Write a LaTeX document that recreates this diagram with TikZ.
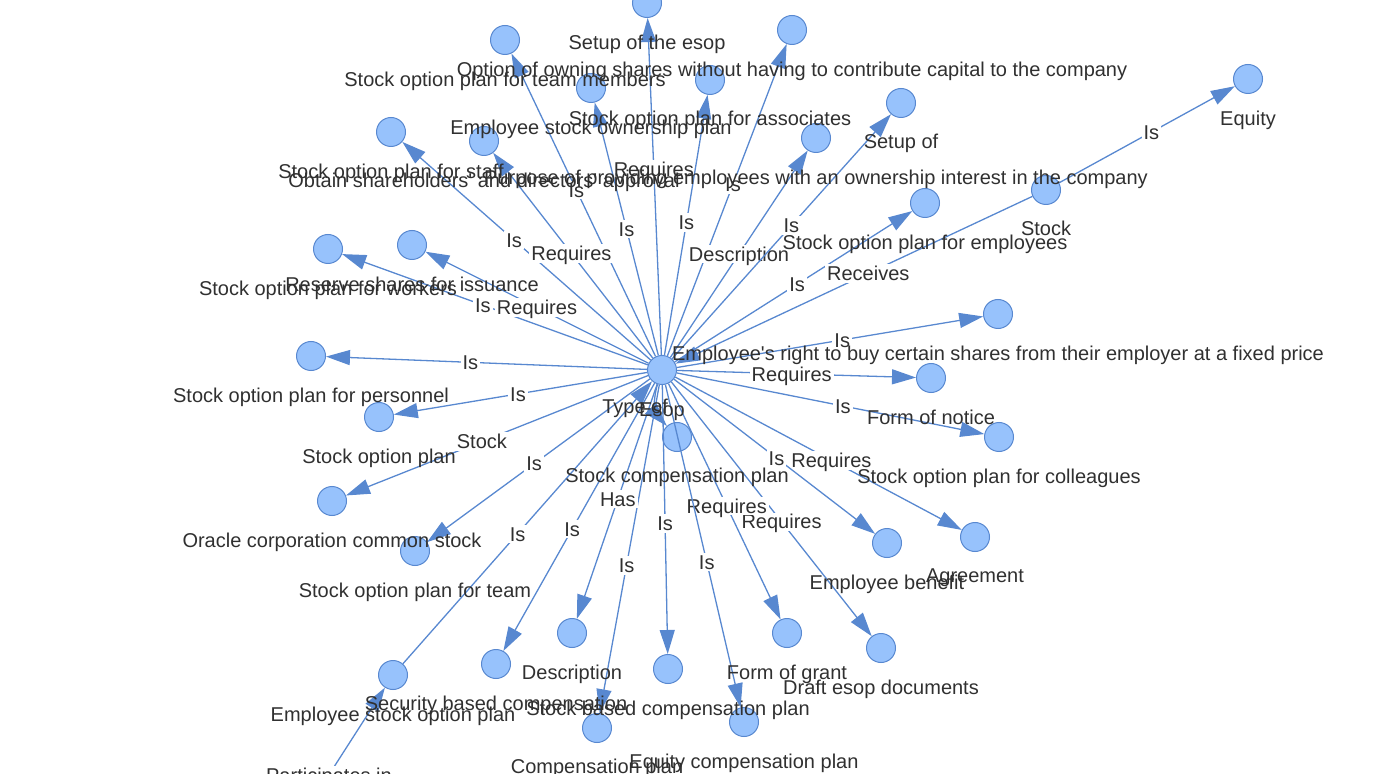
\documentclass[tikz,border=0pt]{standalone}
\usepackage{fontspec}
\setmainfont{Liberation Sans}
\usetikzlibrary{arrows.meta}
\definecolor{esoplightblue}{RGB}{151,194,252}
\definecolor{esopblue}{RGB}{88,136,208}
\definecolor{esopdarkgray}{RGB}{48,48,48}
\tikzset{
  concept/.style={circle, draw=esopblue, fill=esoplightblue, line width=0.5pt,
    minimum size=14.5pt, inner sep=0pt},
  conceptlabel/.style={text=esopdarkgray, font=\fontsize{10}{12}\selectfont,
    inner sep=0pt, text height=7.2pt, text depth=0pt},
  relation/.style={draw=esopblue, line width=0.65pt, -{Triangle[length=12pt,width=7.5pt]}},
  relationlabel/.style={conceptlabel, fill=white, inner sep=1pt}
}
\begin{document}
\begin{tikzpicture}[x=0.5pt, y=-0.5pt]
\useasboundingbox (0,0) rectangle (1400,774);

% concepts
\node[concept] (esop) at (662,370) {};
\node[concept] (setupesop) at (647,3) {};
\node[concept] (teammembers) at (505,40) {};
\node[concept] (optionowning) at (792,30) {};
\node[concept] (ownership) at (591,88) {};
\node[concept] (associates) at (710,80) {};
\node[concept] (staff) at (391,132) {};
\node[concept] (approval) at (484,141) {};
\node[concept] (purpose) at (816,138) {};
\node[concept] (setupof) at (901,103) {};
\node[concept] (employees) at (925,203) {};
\node[concept] (stock) at (1046,190) {};
\node[concept] (equity) at (1248,79) {};
\node[concept] (workers) at (328,249) {};
\node[concept] (reserve) at (412,245) {};
\node[concept] (personnel) at (311,356) {};
\node[concept] (sop) at (379,417) {};
\node[concept] (oracle) at (332,501) {};
\node[concept] (team) at (415,551) {};
\node[concept] (esopplan) at (393,675) {};
\node[concept] (security) at (496,664) {};
\node[concept] (description) at (572,633) {};
\node[concept] (compplan) at (597,728) {};
\node[concept] (stockbased) at (668,669) {};
\node[concept] (equitycomp) at (744,722) {};
\node[concept] (formgrant) at (787,633) {};
\node[concept] (draft) at (881,648) {};
\node[concept] (benefit) at (887,543) {};
\node[concept] (agreement) at (975,537) {};
\node[concept] (colleagues) at (999,437) {};
\node[concept] (notice) at (931,378) {};
\node[concept] (right) at (998,314) {};
\node[concept] (stockcomp) at (677,437) {};
\coordinate (participant) at (273,862);

% relations
\draw[relation] (esop) -- node[relationlabel, pos=0.55] {Requires} (setupesop);
\draw[relation] (esop) -- node[relationlabel, pos=0.55] {Is} (teammembers);
\draw[relation] (esop) -- node[relationlabel, pos=0.5] {Is} (ownership);
\draw[relation] (esop) -- node[relationlabel, pos=0.51] {Is} (associates);
\draw[relation] (esop) -- node[relationlabel, pos=0.55] {Is} (optionowning);
\draw[relation] (esop) -- node[relationlabel, pos=0.55] {Is} (staff);
\draw[relation] (esop) -- node[relationlabel, pos=0.51] {Requires} (approval);
\draw[relation] (esop) -- node[relationlabel, pos=0.5] {Description} (purpose);
\draw[relation] (esop) -- node[relationlabel, pos=0.545] {Is} (setupof);
\draw[relation] (esop) -- node[relationlabel, pos=0.515] {Is} (employees);
\draw[relation] (stock) -- node[relationlabel, pos=0.46] {Receives} (esop);
\draw[relation] (stock) -- node[relationlabel, pos=0.525] {Is} (equity);
\draw[relation] (esop) -- node[relationlabel, pos=0.54] {Is} (right);
\draw[relation] (esop) -- node[relationlabel, pos=0.48] {Requires} (notice);
\draw[relation] (esop) -- node[relationlabel, pos=0.54] {Is} (colleagues);
\draw[relation] (esop) -- node[relationlabel, pos=0.545] {Requires} (agreement);
\draw[relation] (esop) -- node[relationlabel, pos=0.51] {Is} (benefit);
\draw[relation] (esop) -- node[relationlabel, pos=0.55] {Requires} (draft);
\draw[relation] (esop) -- node[relationlabel, pos=0.52] {Requires} (formgrant);
\draw[relation] (esop) -- node[relationlabel, pos=0.55] {Is} (equitycomp);
\draw[relation] (esop) -- node[relationlabel, pos=0.515] {Is} (stockbased);
\draw[relation] (esop) -- node[relationlabel, pos=0.55] {Is} (compplan);
\draw[relation] (esop) -- node[relationlabel, pos=0.49] {Has} (description);
\draw[relation] (esop) -- node[relationlabel, pos=0.545] {Is} (security);
\draw[relation] (esopplan) -- node[relationlabel, pos=0.46] {Is} (esop);
\draw[relation] (esop) -- node[relationlabel, pos=0.52] {Is} (team);
\draw[relation] (esop) -- node[relationlabel, pos=0.55] {Stock} (oracle);
\draw[relation] (esop) -- node[relationlabel, pos=0.51] {Is} (sop);
\draw[relation] (esop) -- node[relationlabel, pos=0.55] {Is} (personnel);
\draw[relation] (esop) -- node[relationlabel, pos=0.54] {Is} (workers);
\draw[relation] (esop) -- node[relationlabel, pos=0.5] {Requires} (reserve);
\draw[relation] (esop) to[bend right=30] node[conceptlabel, midway, xshift=-10.5pt] {Type of} (stockcomp);
\draw[relation] (participant) -- node[relationlabel, midway] {Participates in} (esopplan);

% concept labels
\node[conceptlabel] (esop-t) at (662,409) {Esop};
\node[conceptlabel] (setupesop-t) at (647,42) {Setup of the esop};
\node[conceptlabel] (teammembers-t) at (505,79) {Stock option plan for team members};
\node[conceptlabel] (optionowning-t) at (792,69) {Option of owning shares without having to contribute capital to the company};
\node[conceptlabel] (ownership-t) at (591,127) {Employee stock ownership plan};
\node[conceptlabel] (associates-t) at (710,118) {Stock option plan for associates};
\node[conceptlabel] (staff-t) at (391,171) {Stock option plan for staff};
\node[conceptlabel] (approval-t) at (484,180) {Obtain shareholders\textquotesingle{} and directors\textquotesingle{} approval};
\node[conceptlabel] (purpose-t) at (816,177) {Purpose of providing employees with an ownership interest in the company};
\node[conceptlabel] (setupof-t) at (901,141) {Setup of};
\node[conceptlabel] (employees-t) at (925,242) {Stock option plan for employees};
\node[conceptlabel] (stock-t) at (1046,228) {Stock};
\node[conceptlabel] (equity-t) at (1248,118) {Equity};
\node[conceptlabel] (workers-t) at (328,288) {Stock option plan for workers};
\node[conceptlabel] (reserve-t) at (412,284) {Reserve shares for issuance};
\node[conceptlabel] (personnel-t) at (311,395) {Stock option plan for personnel};
\node[conceptlabel] (sop-t) at (379,456) {Stock option plan};
\node[conceptlabel] (oracle-t) at (332,540) {Oracle corporation common stock};
\node[conceptlabel] (team-t) at (415,590) {Stock option plan for team};
\node[conceptlabel] (esopplan-t) at (393,714) {Employee stock option plan};
\node[conceptlabel] (security-t) at (496,703) {Security based compensation};
\node[conceptlabel] (description-t) at (572,672) {Description};
\node[conceptlabel] (compplan-t) at (597,766) {Compensation plan};
\node[conceptlabel] (stockbased-t) at (668,708) {Stock based compensation plan};
\node[conceptlabel] (equitycomp-t) at (744,761) {Equity compensation plan};
\node[conceptlabel] (formgrant-t) at (787,672) {Form of grant};
\node[conceptlabel] (draft-t) at (881,687) {Draft esop documents};
\node[conceptlabel] (benefit-t) at (887,582) {Employee benefit};
\node[conceptlabel] (agreement-t) at (975,575) {Agreement};
\node[conceptlabel] (colleagues-t) at (999,476) {Stock option plan for colleagues};
\node[conceptlabel] (notice-t) at (931,417) {Form of notice};
\node[conceptlabel] (right-t) at (998,353) {Employee\textquotesingle{}s right to buy certain shares from their employer at a fixed price};
\node[conceptlabel] (stockcomp-t) at (677,475) {Stock compensation plan};
\end{tikzpicture}
\end{document}
